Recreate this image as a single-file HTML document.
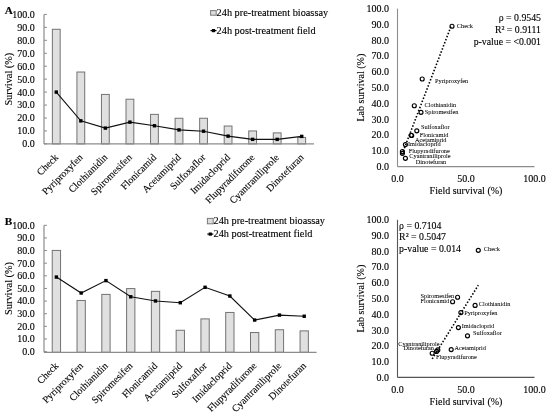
<!DOCTYPE html>
<html><head><meta charset="utf-8"><style>
html,body{margin:0;padding:0;background:#fff;}
body{width:550px;height:419px;overflow:hidden;}
svg{display:block;}
text{fill:#000;stroke:#000;stroke-width:0.12px;}
</style></head><body>
<svg width="550" height="419" viewBox="0 0 550 419" font-family="Liberation Serif, Times New Roman, serif">
<rect width="550" height="419" fill="#fff"/>
<rect x="52.37" y="29.29" width="7.80" height="114.61" fill="#e0e0e0" stroke="#737373" stroke-width="1"/>
<rect x="76.92" y="72.03" width="7.80" height="71.87" fill="#e0e0e0" stroke="#737373" stroke-width="1"/>
<rect x="101.46" y="94.43" width="7.80" height="49.47" fill="#e0e0e0" stroke="#737373" stroke-width="1"/>
<rect x="126.01" y="99.22" width="7.80" height="44.68" fill="#e0e0e0" stroke="#737373" stroke-width="1"/>
<rect x="150.55" y="114.37" width="7.80" height="29.53" fill="#e0e0e0" stroke="#737373" stroke-width="1"/>
<rect x="175.10" y="118.26" width="7.80" height="25.64" fill="#e0e0e0" stroke="#737373" stroke-width="1"/>
<rect x="199.65" y="118.26" width="7.80" height="25.64" fill="#e0e0e0" stroke="#737373" stroke-width="1"/>
<rect x="224.19" y="126.03" width="7.80" height="17.87" fill="#e0e0e0" stroke="#737373" stroke-width="1"/>
<rect x="248.74" y="130.95" width="7.80" height="12.95" fill="#e0e0e0" stroke="#737373" stroke-width="1"/>
<rect x="273.28" y="132.89" width="7.80" height="11.01" fill="#e0e0e0" stroke="#737373" stroke-width="1"/>
<rect x="297.83" y="137.43" width="7.80" height="6.47" fill="#e0e0e0" stroke="#737373" stroke-width="1"/>
<line x1="44" y1="14.4" x2="44" y2="143.9" stroke="#8c8c8c" stroke-width="1.2"/>
<line x1="44" y1="143.9" x2="314" y2="143.9" stroke="#8c8c8c" stroke-width="1.2"/>
<line x1="44" y1="143.90" x2="47" y2="143.90" stroke="#8c8c8c" stroke-width="1"/>
<text x="34.70" y="147.30" font-size="10" text-anchor="end" >0.0</text>
<line x1="44" y1="130.95" x2="47" y2="130.95" stroke="#8c8c8c" stroke-width="1"/>
<text x="34.70" y="134.35" font-size="10" text-anchor="end" >10.0</text>
<line x1="44" y1="118.00" x2="47" y2="118.00" stroke="#8c8c8c" stroke-width="1"/>
<text x="34.70" y="121.40" font-size="10" text-anchor="end" >20.0</text>
<line x1="44" y1="105.05" x2="47" y2="105.05" stroke="#8c8c8c" stroke-width="1"/>
<text x="34.70" y="108.45" font-size="10" text-anchor="end" >30.0</text>
<line x1="44" y1="92.10" x2="47" y2="92.10" stroke="#8c8c8c" stroke-width="1"/>
<text x="34.70" y="95.50" font-size="10" text-anchor="end" >40.0</text>
<line x1="44" y1="79.15" x2="47" y2="79.15" stroke="#8c8c8c" stroke-width="1"/>
<text x="34.70" y="82.55" font-size="10" text-anchor="end" >50.0</text>
<line x1="44" y1="66.20" x2="47" y2="66.20" stroke="#8c8c8c" stroke-width="1"/>
<text x="34.70" y="69.60" font-size="10" text-anchor="end" >60.0</text>
<line x1="44" y1="53.25" x2="47" y2="53.25" stroke="#8c8c8c" stroke-width="1"/>
<text x="34.70" y="56.65" font-size="10" text-anchor="end" >70.0</text>
<line x1="44" y1="40.30" x2="47" y2="40.30" stroke="#8c8c8c" stroke-width="1"/>
<text x="34.70" y="43.70" font-size="10" text-anchor="end" >80.0</text>
<line x1="44" y1="27.35" x2="47" y2="27.35" stroke="#8c8c8c" stroke-width="1"/>
<text x="34.70" y="30.75" font-size="10" text-anchor="end" >90.0</text>
<line x1="44" y1="14.40" x2="47" y2="14.40" stroke="#8c8c8c" stroke-width="1"/>
<text x="34.70" y="17.80" font-size="10" text-anchor="end" >100.0</text>
<polyline points="56.27,92.10 80.82,120.85 105.36,128.10 129.91,122.14 154.45,125.77 179.00,129.91 203.55,131.21 228.09,136.13 252.64,139.37 277.18,139.37 301.73,136.39" fill="none" stroke="#111" stroke-width="1.1"/>
<rect x="54.57" y="90.40" width="3.4" height="3.4" fill="#000"/>
<rect x="79.12" y="119.15" width="3.4" height="3.4" fill="#000"/>
<rect x="103.66" y="126.40" width="3.4" height="3.4" fill="#000"/>
<rect x="128.21" y="120.44" width="3.4" height="3.4" fill="#000"/>
<rect x="152.75" y="124.07" width="3.4" height="3.4" fill="#000"/>
<rect x="177.30" y="128.21" width="3.4" height="3.4" fill="#000"/>
<rect x="201.85" y="129.51" width="3.4" height="3.4" fill="#000"/>
<rect x="226.39" y="134.43" width="3.4" height="3.4" fill="#000"/>
<rect x="250.94" y="137.67" width="3.4" height="3.4" fill="#000"/>
<rect x="275.48" y="137.67" width="3.4" height="3.4" fill="#000"/>
<rect x="300.03" y="134.69" width="3.4" height="3.4" fill="#000"/>
<text x="58.87" y="158.00" font-size="10" text-anchor="end" transform="rotate(-45 58.87 158.00)">Check</text>
<text x="83.42" y="158.00" font-size="10" text-anchor="end" transform="rotate(-45 83.42 158.00)">Pyriproxyfen</text>
<text x="107.96" y="158.00" font-size="10" text-anchor="end" transform="rotate(-45 107.96 158.00)">Clothianidin</text>
<text x="132.51" y="158.00" font-size="10" text-anchor="end" transform="rotate(-45 132.51 158.00)">Spiromesifen</text>
<text x="157.05" y="158.00" font-size="10" text-anchor="end" transform="rotate(-45 157.05 158.00)">Flonicamid</text>
<text x="181.60" y="158.00" font-size="10" text-anchor="end" transform="rotate(-45 181.60 158.00)">Acetamiprid</text>
<text x="206.15" y="158.00" font-size="10" text-anchor="end" transform="rotate(-45 206.15 158.00)">Sulfoxaflor</text>
<text x="230.69" y="158.00" font-size="10" text-anchor="end" transform="rotate(-45 230.69 158.00)">Imidacloprid</text>
<text x="255.24" y="158.00" font-size="10" text-anchor="end" transform="rotate(-45 255.24 158.00)">Flupyradifurone</text>
<text x="279.78" y="158.00" font-size="10" text-anchor="end" transform="rotate(-45 279.78 158.00)">Cyantraniliprole</text>
<text x="304.33" y="158.00" font-size="10" text-anchor="end" transform="rotate(-45 304.33 158.00)">Dinotefuran</text>
<text x="12.5" y="79.15" font-size="10.3" text-anchor="middle" transform="rotate(-90 12.5 79.15)">Survival (%)</text>
<text x="4.8" y="14.3" font-size="11.2" font-weight="bold">A</text>
<rect x="210.6" y="10.6" width="5.6" height="4.6" fill="#dddddd" stroke="#7a7a7a" stroke-width="1"/>
<line x1="210.5" y1="30.6" x2="216.5" y2="30.6" stroke="#000" stroke-width="1.2"/>
<rect x="211.9" y="29.0" width="3.2" height="3.2" fill="#000"/>
<text x="216.60" y="15.90" font-size="10.3" text-anchor="start" >24h pre-treatment bioassay</text>
<text x="216.60" y="33.80" font-size="10.3" text-anchor="start" >24h post-treatment field</text>
<rect x="52.24" y="250.43" width="8.30" height="101.87" fill="#e0e0e0" stroke="#737373" stroke-width="1"/>
<rect x="77.02" y="300.45" width="8.30" height="51.85" fill="#e0e0e0" stroke="#737373" stroke-width="1"/>
<rect x="101.80" y="294.39" width="8.30" height="57.91" fill="#e0e0e0" stroke="#737373" stroke-width="1"/>
<rect x="126.59" y="288.58" width="8.30" height="63.72" fill="#e0e0e0" stroke="#737373" stroke-width="1"/>
<rect x="151.37" y="291.35" width="8.30" height="60.95" fill="#e0e0e0" stroke="#737373" stroke-width="1"/>
<rect x="176.15" y="330.26" width="8.30" height="22.04" fill="#e0e0e0" stroke="#737373" stroke-width="1"/>
<rect x="200.93" y="318.89" width="8.30" height="33.41" fill="#e0e0e0" stroke="#737373" stroke-width="1"/>
<rect x="225.71" y="312.45" width="8.30" height="39.85" fill="#e0e0e0" stroke="#737373" stroke-width="1"/>
<rect x="250.50" y="332.53" width="8.30" height="19.77" fill="#e0e0e0" stroke="#737373" stroke-width="1"/>
<rect x="275.28" y="329.75" width="8.30" height="22.55" fill="#e0e0e0" stroke="#737373" stroke-width="1"/>
<rect x="300.06" y="330.89" width="8.30" height="21.41" fill="#e0e0e0" stroke="#737373" stroke-width="1"/>
<line x1="44" y1="225.3" x2="44" y2="352.3" stroke="#8c8c8c" stroke-width="1.2"/>
<line x1="44" y1="352.3" x2="316.6" y2="352.3" stroke="#8c8c8c" stroke-width="1.2"/>
<line x1="44" y1="351.60" x2="47" y2="351.60" stroke="#8c8c8c" stroke-width="1"/>
<text x="34.70" y="355.00" font-size="10" text-anchor="end" >0.0</text>
<line x1="44" y1="338.97" x2="47" y2="338.97" stroke="#8c8c8c" stroke-width="1"/>
<text x="34.70" y="342.37" font-size="10" text-anchor="end" >10.0</text>
<line x1="44" y1="326.34" x2="47" y2="326.34" stroke="#8c8c8c" stroke-width="1"/>
<text x="34.70" y="329.74" font-size="10" text-anchor="end" >20.0</text>
<line x1="44" y1="313.71" x2="47" y2="313.71" stroke="#8c8c8c" stroke-width="1"/>
<text x="34.70" y="317.11" font-size="10" text-anchor="end" >30.0</text>
<line x1="44" y1="301.08" x2="47" y2="301.08" stroke="#8c8c8c" stroke-width="1"/>
<text x="34.70" y="304.48" font-size="10" text-anchor="end" >40.0</text>
<line x1="44" y1="288.45" x2="47" y2="288.45" stroke="#8c8c8c" stroke-width="1"/>
<text x="34.70" y="291.85" font-size="10" text-anchor="end" >50.0</text>
<line x1="44" y1="275.82" x2="47" y2="275.82" stroke="#8c8c8c" stroke-width="1"/>
<text x="34.70" y="279.22" font-size="10" text-anchor="end" >60.0</text>
<line x1="44" y1="263.19" x2="47" y2="263.19" stroke="#8c8c8c" stroke-width="1"/>
<text x="34.70" y="266.59" font-size="10" text-anchor="end" >70.0</text>
<line x1="44" y1="250.56" x2="47" y2="250.56" stroke="#8c8c8c" stroke-width="1"/>
<text x="34.70" y="253.96" font-size="10" text-anchor="end" >80.0</text>
<line x1="44" y1="237.93" x2="47" y2="237.93" stroke="#8c8c8c" stroke-width="1"/>
<text x="34.70" y="241.33" font-size="10" text-anchor="end" >90.0</text>
<line x1="44" y1="225.30" x2="47" y2="225.30" stroke="#8c8c8c" stroke-width="1"/>
<text x="34.70" y="228.70" font-size="10" text-anchor="end" >100.0</text>
<polyline points="56.39,277.08 81.17,293.00 105.95,280.62 130.74,296.79 155.52,300.95 180.30,302.72 205.08,287.31 229.86,296.03 254.65,320.03 279.43,315.10 304.21,316.24" fill="none" stroke="#111" stroke-width="1.1"/>
<rect x="54.69" y="275.38" width="3.4" height="3.4" fill="#000"/>
<rect x="79.47" y="291.30" width="3.4" height="3.4" fill="#000"/>
<rect x="104.25" y="278.92" width="3.4" height="3.4" fill="#000"/>
<rect x="129.04" y="295.09" width="3.4" height="3.4" fill="#000"/>
<rect x="153.82" y="299.25" width="3.4" height="3.4" fill="#000"/>
<rect x="178.60" y="301.02" width="3.4" height="3.4" fill="#000"/>
<rect x="203.38" y="285.61" width="3.4" height="3.4" fill="#000"/>
<rect x="228.16" y="294.33" width="3.4" height="3.4" fill="#000"/>
<rect x="252.95" y="318.33" width="3.4" height="3.4" fill="#000"/>
<rect x="277.73" y="313.40" width="3.4" height="3.4" fill="#000"/>
<rect x="302.51" y="314.54" width="3.4" height="3.4" fill="#000"/>
<text x="58.99" y="366.40" font-size="10" text-anchor="end" transform="rotate(-45 58.99 366.40)">Check</text>
<text x="83.77" y="366.40" font-size="10" text-anchor="end" transform="rotate(-45 83.77 366.40)">Pyriproxyfen</text>
<text x="108.55" y="366.40" font-size="10" text-anchor="end" transform="rotate(-45 108.55 366.40)">Clothianidin</text>
<text x="133.34" y="366.40" font-size="10" text-anchor="end" transform="rotate(-45 133.34 366.40)">Spiromesifen</text>
<text x="158.12" y="366.40" font-size="10" text-anchor="end" transform="rotate(-45 158.12 366.40)">Flonicamid</text>
<text x="182.90" y="366.40" font-size="10" text-anchor="end" transform="rotate(-45 182.90 366.40)">Acetamiprid</text>
<text x="207.68" y="366.40" font-size="10" text-anchor="end" transform="rotate(-45 207.68 366.40)">Sulfoxaflor</text>
<text x="232.46" y="366.40" font-size="10" text-anchor="end" transform="rotate(-45 232.46 366.40)">Imidacloprid</text>
<text x="257.25" y="366.40" font-size="10" text-anchor="end" transform="rotate(-45 257.25 366.40)">Flupyradifurone</text>
<text x="282.03" y="366.40" font-size="10" text-anchor="end" transform="rotate(-45 282.03 366.40)">Cyantraniliprole</text>
<text x="306.81" y="366.40" font-size="10" text-anchor="end" transform="rotate(-45 306.81 366.40)">Dinotefuran</text>
<text x="12.5" y="288.45" font-size="10.3" text-anchor="middle" transform="rotate(-90 12.5 288.45)">Survival (%)</text>
<text x="4.8" y="224.6" font-size="11.2" font-weight="bold">B</text>
<rect x="207.4" y="218.4" width="5.8" height="5.4" fill="#dddddd" stroke="#7a7a7a" stroke-width="1"/>
<line x1="207.3" y1="234.1" x2="213.3" y2="234.1" stroke="#000" stroke-width="1.2"/>
<rect x="208.70000000000002" y="232.5" width="3.2" height="3.2" fill="#000"/>
<text x="213.50" y="223.70" font-size="10.3" text-anchor="start" >24h pre-treatment bioassay</text>
<text x="213.50" y="237.40" font-size="10.3" text-anchor="start" >24h post-treatment field</text>
<line x1="397.5" y1="8.6" x2="397.5" y2="166.7" stroke="#8c8c8c" stroke-width="1.1"/>
<line x1="397.5" y1="166.7" x2="534.5" y2="166.7" stroke="#8c8c8c" stroke-width="1.2"/>
<text x="389.00" y="170.10" font-size="10" text-anchor="end" >0.0</text>
<text x="389.00" y="154.29" font-size="10" text-anchor="end" >10.0</text>
<text x="389.00" y="138.48" font-size="10" text-anchor="end" >20.0</text>
<text x="389.00" y="122.67" font-size="10" text-anchor="end" >30.0</text>
<text x="389.00" y="106.86" font-size="10" text-anchor="end" >40.0</text>
<text x="389.00" y="91.05" font-size="10" text-anchor="end" >50.0</text>
<text x="389.00" y="75.24" font-size="10" text-anchor="end" >60.0</text>
<text x="389.00" y="59.43" font-size="10" text-anchor="end" >70.0</text>
<text x="389.00" y="43.62" font-size="10" text-anchor="end" >80.0</text>
<text x="389.00" y="27.81" font-size="10" text-anchor="end" >90.0</text>
<text x="389.00" y="12.00" font-size="10" text-anchor="end" >100.0</text>
<text x="397.50" y="181.90" font-size="10" text-anchor="middle" >0.0</text>
<text x="466.00" y="181.90" font-size="10" text-anchor="middle" >50.0</text>
<text x="534.50" y="181.90" font-size="10" text-anchor="middle" >100.0</text>
<text x="364.5" y="87.65" font-size="10" text-anchor="middle" transform="rotate(-90 364.5 87.65)">Lab survival (%)</text>
<text x="466.00" y="194.00" font-size="10" text-anchor="middle" >Field survival (%)</text>
<line x1="402.0" y1="154.4" x2="451.6" y2="24.8" stroke="#000" stroke-width="1.6" stroke-dasharray="1.5 1.8"/>
<circle cx="452.00" cy="26.20" r="2" fill="none" stroke="#000" stroke-width="1.15"/>
<circle cx="422.20" cy="79.00" r="2" fill="none" stroke="#000" stroke-width="1.15"/>
<circle cx="414.30" cy="105.70" r="2" fill="none" stroke="#000" stroke-width="1.15"/>
<circle cx="421.00" cy="112.30" r="2" fill="none" stroke="#000" stroke-width="1.15"/>
<circle cx="416.80" cy="130.80" r="2" fill="none" stroke="#000" stroke-width="1.15"/>
<circle cx="411.70" cy="135.50" r="2" fill="none" stroke="#000" stroke-width="1.15"/>
<circle cx="411.20" cy="135.20" r="2" fill="none" stroke="#000" stroke-width="1.15"/>
<circle cx="405.40" cy="144.60" r="2" fill="none" stroke="#000" stroke-width="1.15"/>
<circle cx="402.40" cy="151.50" r="2" fill="none" stroke="#000" stroke-width="1.15"/>
<circle cx="402.40" cy="153.30" r="2" fill="none" stroke="#000" stroke-width="1.15"/>
<circle cx="405.40" cy="158.30" r="2" fill="none" stroke="#000" stroke-width="1.15"/>
<text x="456.80" y="28.10" font-size="6.3" text-anchor="start" style="stroke-width:0.04px">Check</text>
<text x="435.00" y="83.00" font-size="6.3" text-anchor="start" style="stroke-width:0.04px">Pyriproxyfen</text>
<text x="424.60" y="106.90" font-size="6.3" text-anchor="start" style="stroke-width:0.04px">Clothianidin</text>
<text x="424.80" y="113.60" font-size="6.3" text-anchor="start" style="stroke-width:0.04px">Spiromesifen</text>
<text x="420.90" y="129.30" font-size="6.3" text-anchor="start" style="stroke-width:0.04px">Sulfoxaflor</text>
<text x="419.70" y="136.60" font-size="6.3" text-anchor="start" style="stroke-width:0.04px">Flonicamid</text>
<text x="415.00" y="141.70" font-size="6.3" text-anchor="start" style="stroke-width:0.04px">Acetamiprid</text>
<text x="408.00" y="146.40" font-size="6.3" text-anchor="start" style="stroke-width:0.04px">Imidacloprid</text>
<text x="408.80" y="152.90" font-size="6.3" text-anchor="start" style="stroke-width:0.04px">Flupyradifurone</text>
<text x="409.30" y="158.40" font-size="6.3" text-anchor="start" style="stroke-width:0.04px">Cyantraniliprole</text>
<text x="415.80" y="163.80" font-size="6.3" text-anchor="start" style="stroke-width:0.04px">Dinotefuran</text>
<text x="541.00" y="20.80" font-size="9.8" text-anchor="end" >ρ = 0.9545</text>
<text x="541.00" y="32.80" font-size="9.8" text-anchor="end" >R² = 0.9111</text>
<text x="541.00" y="44.50" font-size="9.8" text-anchor="end" >p-value = &lt;0.001</text>
<line x1="397.5" y1="219.8" x2="397.5" y2="377.4" stroke="#555" stroke-width="1.1"/>
<line x1="397.5" y1="377.4" x2="534.5" y2="377.4" stroke="#555" stroke-width="1.2"/>
<text x="389.00" y="380.80" font-size="10" text-anchor="end" >0.0</text>
<text x="389.00" y="365.04" font-size="10" text-anchor="end" >10.0</text>
<text x="389.00" y="349.28" font-size="10" text-anchor="end" >20.0</text>
<text x="389.00" y="333.52" font-size="10" text-anchor="end" >30.0</text>
<text x="389.00" y="317.76" font-size="10" text-anchor="end" >40.0</text>
<text x="389.00" y="302.00" font-size="10" text-anchor="end" >50.0</text>
<text x="389.00" y="286.24" font-size="10" text-anchor="end" >60.0</text>
<text x="389.00" y="270.48" font-size="10" text-anchor="end" >70.0</text>
<text x="389.00" y="254.72" font-size="10" text-anchor="end" >80.0</text>
<text x="389.00" y="238.96" font-size="10" text-anchor="end" >90.0</text>
<text x="389.00" y="223.20" font-size="10" text-anchor="end" >100.0</text>
<text x="397.50" y="392.60" font-size="10" text-anchor="middle" >0.0</text>
<text x="466.00" y="392.60" font-size="10" text-anchor="middle" >50.0</text>
<text x="534.50" y="392.60" font-size="10" text-anchor="middle" >100.0</text>
<text x="364.5" y="298.60" font-size="10" text-anchor="middle" transform="rotate(-90 364.5 298.60)">Lab survival (%)</text>
<text x="466.00" y="404.70" font-size="10" text-anchor="middle" >Field survival (%)</text>
<line x1="432.2" y1="358.9" x2="478.3" y2="285.2" stroke="#000" stroke-width="1.6" stroke-dasharray="1.5 1.8"/>
<circle cx="478.30" cy="250.30" r="2" fill="none" stroke="#000" stroke-width="1.15"/>
<circle cx="460.90" cy="312.60" r="2" fill="none" stroke="#000" stroke-width="1.15"/>
<circle cx="475.10" cy="305.40" r="2" fill="none" stroke="#000" stroke-width="1.15"/>
<circle cx="457.60" cy="297.20" r="2" fill="none" stroke="#000" stroke-width="1.15"/>
<circle cx="452.60" cy="301.70" r="2" fill="none" stroke="#000" stroke-width="1.15"/>
<circle cx="451.20" cy="349.60" r="2" fill="none" stroke="#000" stroke-width="1.15"/>
<circle cx="467.50" cy="335.80" r="2" fill="none" stroke="#000" stroke-width="1.15"/>
<circle cx="458.40" cy="327.60" r="2" fill="none" stroke="#000" stroke-width="1.15"/>
<circle cx="432.20" cy="353.20" r="2" fill="none" stroke="#000" stroke-width="1.15"/>
<circle cx="437.80" cy="349.90" r="2" fill="none" stroke="#000" stroke-width="1.15"/>
<circle cx="436.50" cy="351.40" r="2" fill="none" stroke="#000" stroke-width="1.15"/>
<text x="483.80" y="250.80" font-size="6.3" text-anchor="start" style="stroke-width:0.04px">Check</text>
<text x="454.20" y="297.50" font-size="6.3" text-anchor="end" style="stroke-width:0.04px">Spiromesifen</text>
<text x="449.20" y="302.90" font-size="6.3" text-anchor="end" style="stroke-width:0.04px">Flonicamid</text>
<text x="478.80" y="305.90" font-size="6.3" text-anchor="start" style="stroke-width:0.04px">Clothianidin</text>
<text x="464.20" y="315.10" font-size="6.3" text-anchor="start" style="stroke-width:0.04px">Pyriproxyfen</text>
<text x="461.70" y="327.60" font-size="6.3" text-anchor="start" style="stroke-width:0.04px">Imidacloprid</text>
<text x="473.10" y="335.40" font-size="6.3" text-anchor="start" style="stroke-width:0.04px">Sulfoxaflor</text>
<text x="454.40" y="350.40" font-size="6.3" text-anchor="start" style="stroke-width:0.04px">Acetamiprid</text>
<text x="439.50" y="345.50" font-size="6.3" text-anchor="end" style="stroke-width:0.04px">Cyantraniliprole</text>
<text x="434.00" y="350.00" font-size="6.3" text-anchor="end" style="stroke-width:0.04px">Dinotefuran</text>
<text x="435.90" y="358.60" font-size="6.3" text-anchor="start" style="stroke-width:0.04px">Flupyradifurone</text>
<text x="399.10" y="228.90" font-size="9.8" text-anchor="start" >ρ = 0.7104</text>
<text x="399.10" y="240.40" font-size="9.8" text-anchor="start" >R² = 0.5047</text>
<text x="399.10" y="252.10" font-size="9.8" text-anchor="start" >p-value = 0.014</text>
</svg>
</body></html>
